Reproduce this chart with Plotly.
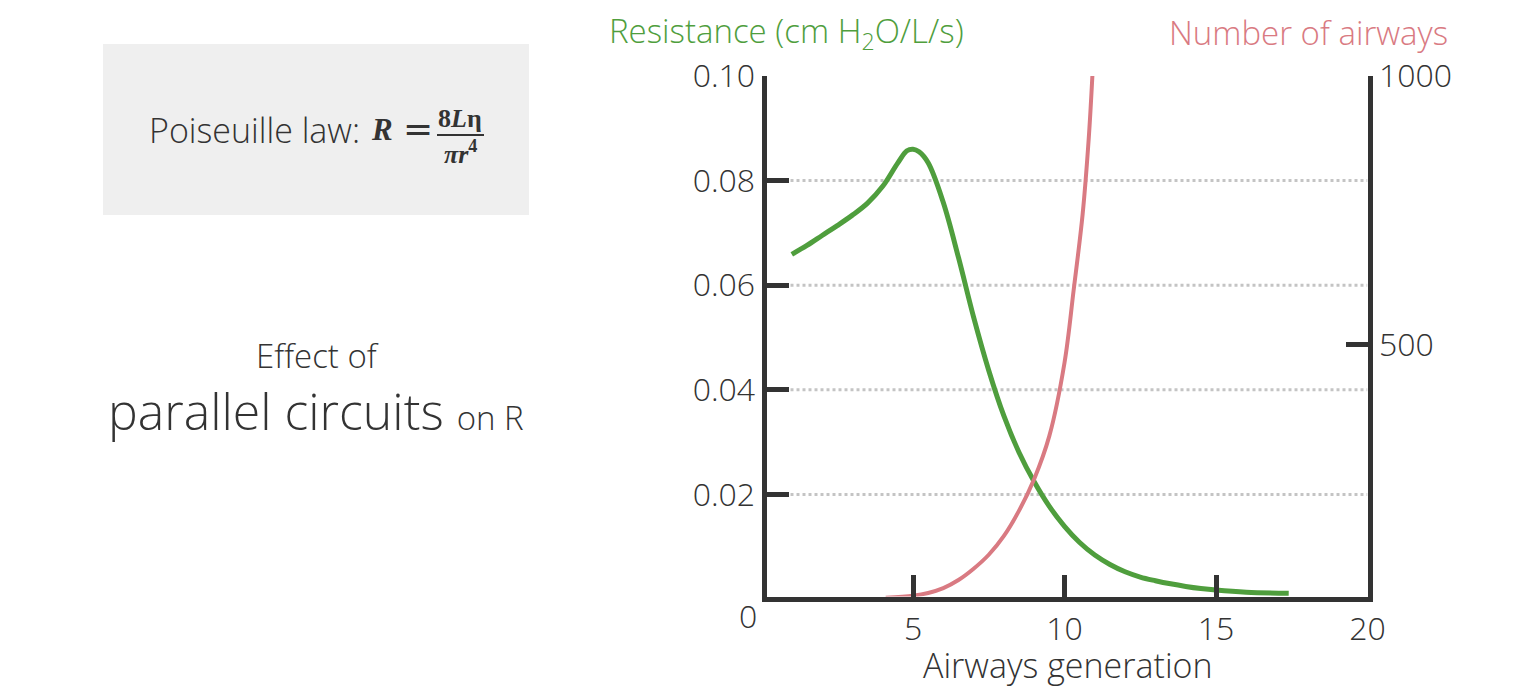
import plotly.graph_objects as go

# ---------------- data ----------------
gen_green = [1.0, 1.5, 2.0, 2.5, 3.0, 3.5, 4.0, 4.5, 4.8, 5.0, 5.2, 5.5, 6.0, 6.5, 7.0, 7.5, 8.0, 8.5, 9.0, 9.5, 10.0, 10.5, 11.0, 11.5, 12.0, 12.5, 13.0, 13.5, 14.0, 14.5, 15.0, 16.0, 17.4]
resistance = [0.0659, 0.0676, 0.0695, 0.0714, 0.0734, 0.0757, 0.0789, 0.0834, 0.0857, 0.0860, 0.0855, 0.0834, 0.0758, 0.0653, 0.0539, 0.0437, 0.0350, 0.0280, 0.0224, 0.0177, 0.0139, 0.0108, 0.0084, 0.0066, 0.0052, 0.0042, 0.0035, 0.0029, 0.0024, 0.0020, 0.0017, 0.0013, 0.0011]

gen_red = [4.1, 5.0, 5.5, 6.0, 6.5, 7.0, 7.5, 8.0, 8.5, 9.0, 9.5, 10.0, 10.3, 10.6, 10.8, 10.92]
airways = [30, 34, 39, 48, 63, 84, 110, 145, 192, 251, 331, 467, 601, 744, 884, 1000]

x_ticks = [5, 10, 15, 20]
y_ticks = [0.02, 0.04, 0.06, 0.08, 0.10]
y_grid = [0.02, 0.04, 0.06, 0.08]
y2_ticks = [500, 1000]

X_RANGE = [0.165, 20]
Y_RANGE = [0.000478, 0.10]
Y2_RANGE = [32.4, 1000]

GREEN = "#4f9e3d"
RED = "#d97a82"
INK = "#333333"
FONT = "Open Sans"

W, H = 1536, 695
def px(x):
    return x / W
def py(y):
    return 1 - y / H

fig = go.Figure()
fig.add_trace(go.Scatter(x=gen_green, y=resistance, mode="lines",
                         line=dict(color=GREEN, width=5, shape="spline", smoothing=1.0),
                         yaxis="y", showlegend=False, hoverinfo="skip"))
fig.add_trace(go.Scatter(x=gen_red, y=airways, mode="lines",
                         line=dict(color=RED, width=4, shape="spline", smoothing=1.0),
                         yaxis="y2", showlegend=False, hoverinfo="skip"))

shapes = []
for g in y_grid:
    shapes.append(dict(type="line", xref="x", yref="y", x0=X_RANGE[0], x1=X_RANGE[1], y0=g, y1=g,
                       line=dict(color="#c4c4c4", width=3, dash="dot"), layer="below"))
# grey box
shapes.append(dict(type="rect", xref="paper", yref="paper",
                   x0=px(103), x1=px(529), y0=py(215), y1=py(44),
                   fillcolor="#efefef", line=dict(width=0), layer="below"))
# fraction bar
shapes.append(dict(type="line", xref="paper", yref="paper",
                   x0=px(437), x1=px(484), y0=py(135), y1=py(135),
                   line=dict(color=INK, width=2)))

ann = []
def text(t, x, y, size, color=INK, xanchor="center", family=FONT, weight=300):
    ann.append(dict(text=t, xref="paper", yref="paper", x=px(x), y=py(y),
                    xanchor=xanchor, yanchor="middle", showarrow=False,
                    font=dict(family=family, size=size, color=color, weight=weight)))

text("Resistance (cm H<sub>2</sub>O/L/s)", 786, 33, 33, GREEN)
text("Number of airways", 1308, 33, 33, RED)
text("Airways generation", 1068, 665, 34)
text("0", 748, 615, 32)
text("Poiseuille law:", 362, 130, 34, xanchor="right")
text("<b><i>R</i></b>", 369, 130, 31, xanchor="left", family="Liberation Serif", weight=400)
text("=", 418, 128, 36, family="DejaVu Sans", weight=400)
text("<b>8<i>L</i>η</b>", 460, 118, 26, family="Liberation Serif", weight=400)
text("<b><i>πr</i><sup>4</sup></b>", 460, 152, 26, family="Liberation Serif", weight=400)
text("Effect of", 317, 356, 33)
text("parallel circuits <span style='font-size:33px'>on R</span>", 316, 411, 50)

tickfont = dict(family=FONT, size=32, color=INK, weight=300)
axis_common = dict(ticks="inside", ticklen=22, tickwidth=5, tickcolor=INK,
                   showline=True, linewidth=5, linecolor=INK, automargin=False,
                   showgrid=False, zeroline=False, tickfont=tickfont)

fig.update_layout(
    width=W, height=H, autosize=False,
    margin=dict(l=0, r=0, t=0, b=0, pad=0, autoexpand=False),
    paper_bgcolor="white", plot_bgcolor="white",
    font=dict(family=FONT, size=30, color=INK),
    shapes=shapes, annotations=ann, showlegend=False,
    xaxis=dict(domain=[px(766.5), px(1367.5)], range=X_RANGE,
               tickvals=x_ticks, ticktext=[str(v) for v in x_ticks], **axis_common),
    yaxis=dict(domain=[1 - 596.5 / H, 1 - 76 / H], range=Y_RANGE,
               tickvals=y_ticks, ticktext=["%.2f" % v for v in y_ticks], **axis_common),
    yaxis2=dict(overlaying="y", side="right", range=Y2_RANGE,
                tickvals=y2_ticks, ticktext=[str(v) for v in y2_ticks], **axis_common),
)

fig.write_html("out.html",
               post_script="document.body.style.margin='0';document.body.style.overflow='hidden';")
